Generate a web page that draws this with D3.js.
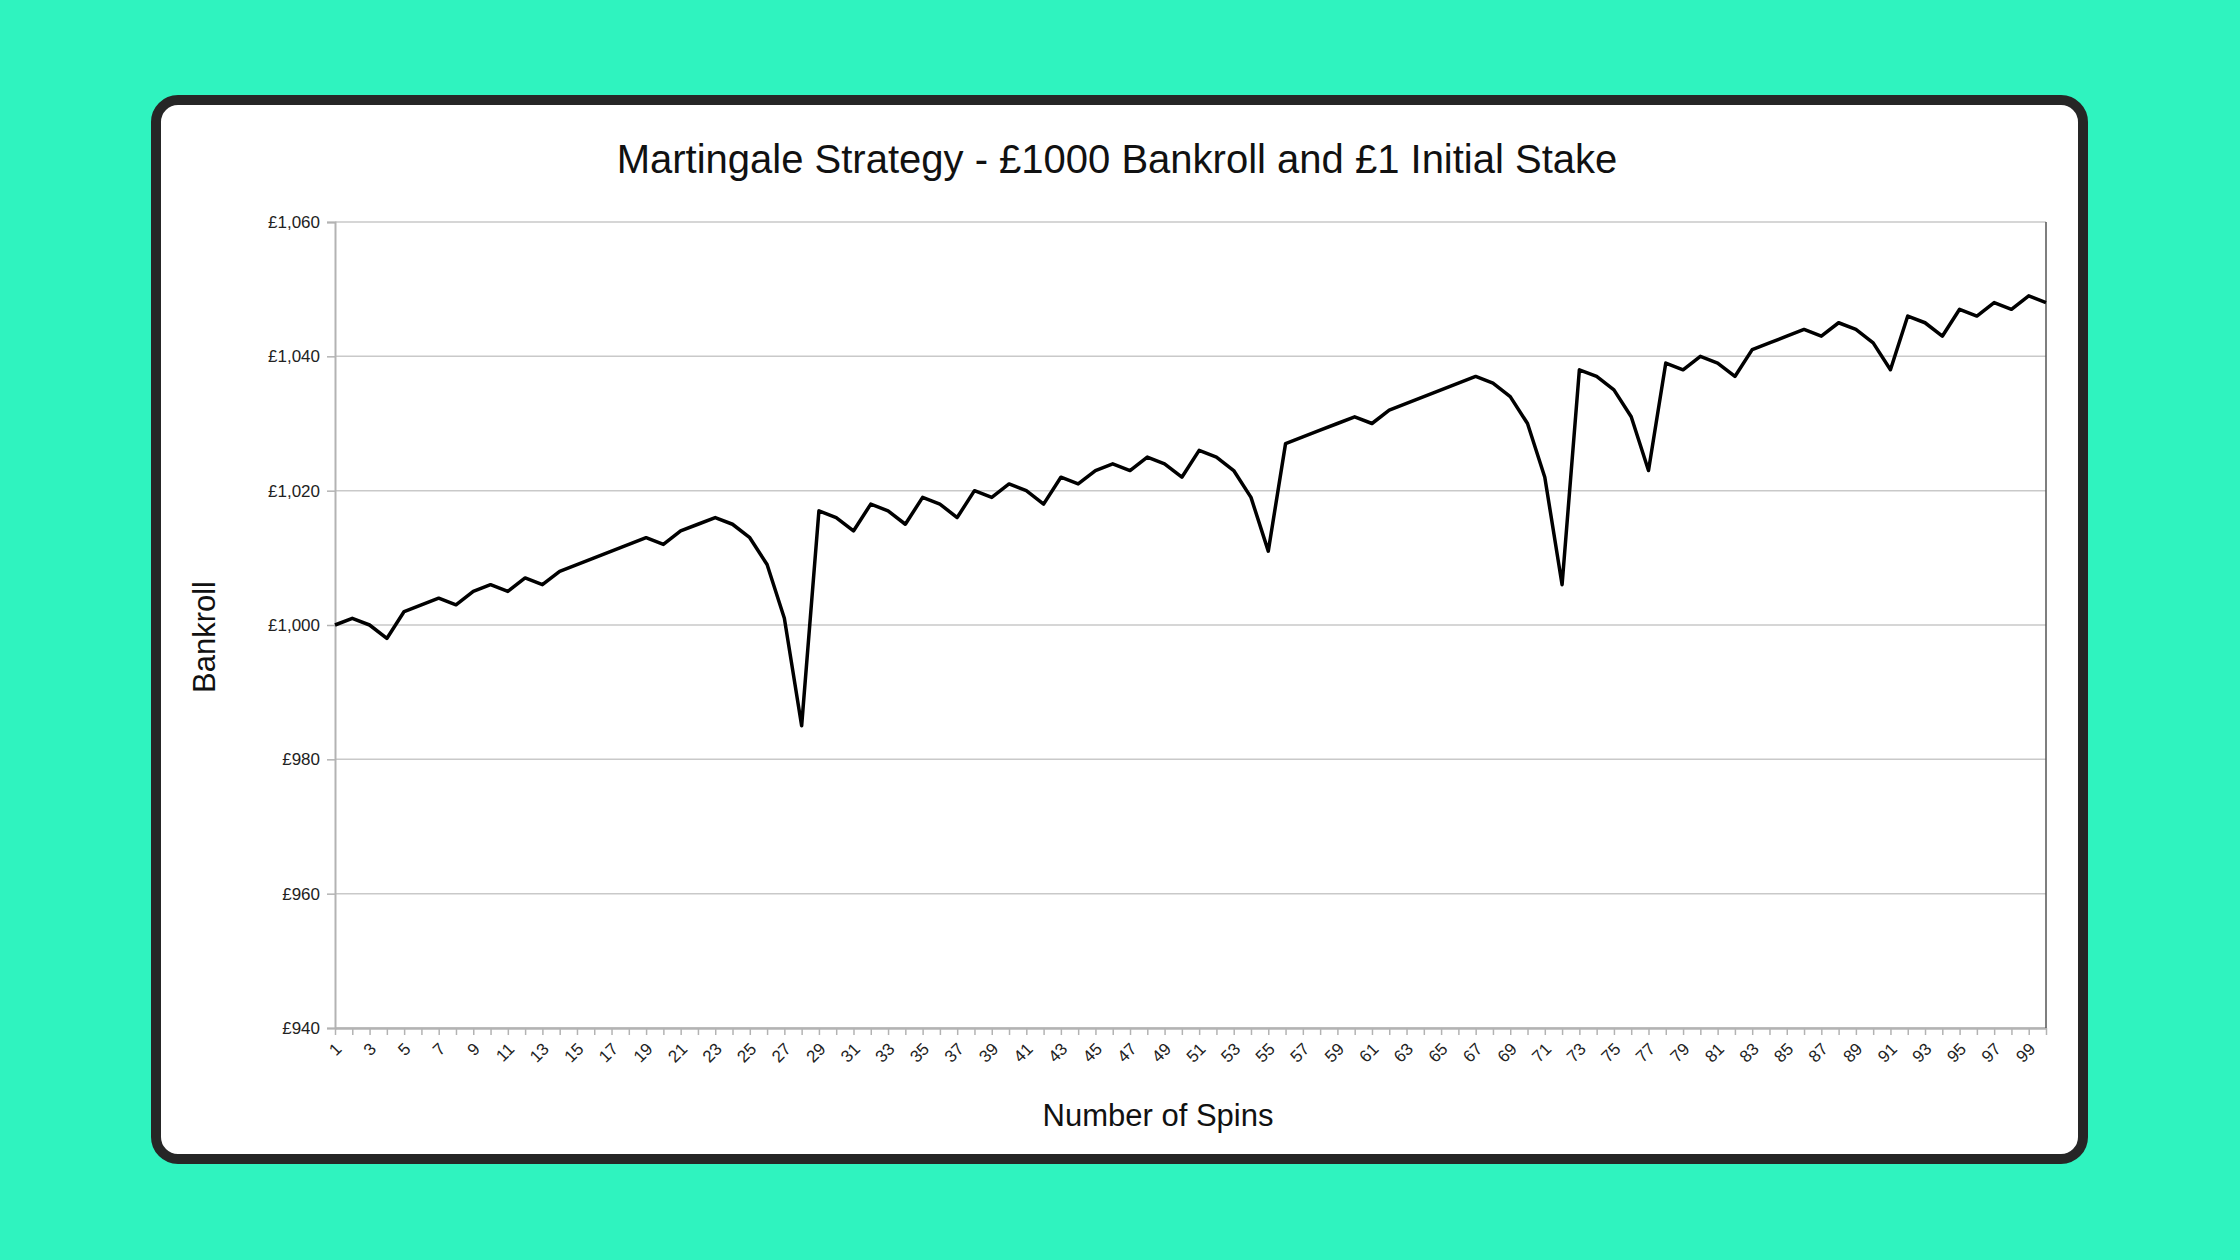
<!DOCTYPE html>
<html>
<head>
<meta charset="utf-8">
<script src="https://cdn.jsdelivr.net/npm/d3@7"></script>
<style>
  html, body { margin: 0; padding: 0; background: #2ff3bf; }
  svg { display: block; font-family: "Liberation Sans", Arial, sans-serif; }
</style>
</head>
<body>
<div id="chart"></div>
<script>
// spin numbers (categories)
const spins = [
  1, 2, 3, 4, 5, 6, 7, 8, 9, 10,
  11, 12, 13, 14, 15, 16, 17, 18, 19, 20,
  21, 22, 23, 24, 25, 26, 27, 28, 29, 30,
  31, 32, 33, 34, 35, 36, 37, 38, 39, 40,
  41, 42, 43, 44, 45, 46, 47, 48, 49, 50,
  51, 52, 53, 54, 55, 56, 57, 58, 59, 60,
  61, 62, 63, 64, 65, 66, 67, 68, 69, 70,
  71, 72, 73, 74, 75, 76, 77, 78, 79, 80,
  81, 82, 83, 84, 85, 86, 87, 88, 89, 90,
  91, 92, 93, 94, 95, 96, 97, 98, 99, 100
];

// bankroll after each spin (£)
const bankroll = [
  1000, 1001, 1000, 998, 1002, 1003, 1004, 1003, 1005, 1006,
  1005, 1007, 1006, 1008, 1009, 1010, 1011, 1012, 1013, 1012,
  1014, 1015, 1016, 1015, 1013, 1009, 1001, 985, 1017, 1016,
  1014, 1018, 1017, 1015, 1019, 1018, 1016, 1020, 1019, 1021,
  1020, 1018, 1022, 1021, 1023, 1024, 1023, 1025, 1024, 1022,
  1026, 1025, 1023, 1019, 1011, 1027, 1028, 1029, 1030, 1031,
  1030, 1032, 1033, 1034, 1035, 1036, 1037, 1036, 1034, 1030,
  1022, 1006, 1038, 1037, 1035, 1031, 1023, 1039, 1038, 1040,
  1039, 1037, 1041, 1042, 1043, 1044, 1043, 1045, 1044, 1042,
  1038, 1046, 1045, 1043, 1047, 1046, 1048, 1047, 1049, 1048
];

const yTicks = [940, 960, 980, 1000, 1020, 1040, 1060];

const title = "Martingale Strategy - £1000 Bankroll and £1 Initial Stake";
const xTitle = "Number of Spins";
const yTitle = "Bankroll";

const width = 2240;
const height = 1260;

const plot = { left: 335, right: 2046, top: 222, bottom: 1028 };

const svg = d3.select("#chart")
  .append("svg")
  .attr("width", width)
  .attr("height", height);

// background + card
svg.append("rect")
  .attr("width", width)
  .attr("height", height)
  .attr("fill", "#2ff3bf");

svg.append("rect")
  .attr("x", 156)
  .attr("y", 100)
  .attr("width", 1927)
  .attr("height", 1059)
  .attr("rx", 22)
  .attr("fill", "#ffffff")
  .attr("stroke", "#262626")
  .attr("stroke-width", 10);

const x = d3.scalePoint()
  .domain(spins)
  .range([plot.left, plot.right]);

const y = d3.scaleLinear()
  .domain([940, 1060])
  .range([plot.bottom, plot.top]);

// gridlines
svg.append("g")
  .selectAll("line")
  .data(yTicks)
  .join("line")
  .attr("x1", plot.left)
  .attr("x2", plot.right)
  .attr("y1", d => y(d))
  .attr("y2", d => y(d))
  .attr("stroke", "#c9c9c9")
  .attr("stroke-width", 1.5);

// y axis
const yAxis = svg.append("g")
  .attr("transform", `translate(${plot.left},0)`)
  .call(
    d3.axisLeft(y)
      .tickValues(yTicks)
      .tickSize(8)
      .tickPadding(7)
      .tickFormat(d => "£" + d3.format(",")(d))
  );
yAxis.select(".domain").attr("stroke", "#b3b3b3").attr("stroke-width", 2);
yAxis.selectAll(".tick line").attr("stroke", "#b3b3b3").attr("stroke-width", 1.5);
yAxis.selectAll(".tick text")
  .attr("font-size", 17)
  .attr("font-family", "Liberation Sans, Arial, sans-serif")
  .attr("fill", "#222");

// x axis
const xAxis = svg.append("g")
  .attr("transform", `translate(0,${plot.bottom})`)
  .call(
    d3.axisBottom(x)
      .tickSize(7)
      .tickSizeOuter(0)
      .tickFormat(d => (d % 2 === 1 ? d : ""))
  );
xAxis.select(".domain").attr("stroke", "#b3b3b3").attr("stroke-width", 2.5);
xAxis.selectAll(".tick line").attr("stroke", "#b3b3b3").attr("stroke-width", 1.5);
xAxis.selectAll(".tick text")
  .attr("font-size", 17)
  .attr("font-family", "Liberation Sans, Arial, sans-serif")
  .attr("fill", "#222")
  .attr("text-anchor", "end")
  .attr("dy", null)
  .attr("y", 0)
  .attr("transform", "translate(4,19) rotate(-45)")
  .attr("dominant-baseline", "middle");

// right edge of plot wall
svg.append("line")
  .attr("x1", plot.right)
  .attr("x2", plot.right)
  .attr("y1", plot.top)
  .attr("y2", plot.bottom)
  .attr("stroke", "#555")
  .attr("stroke-width", 1.5);

// the line
const line = d3.line()
  .x((d, i) => x(spins[i]))
  .y(d => y(d));

svg.append("path")
  .datum(bankroll)
  .attr("d", line)
  .attr("fill", "none")
  .attr("stroke", "#000")
  .attr("stroke-width", 3.5)
  .attr("stroke-linejoin", "round");

// titles
svg.append("text")
  .attr("x", 1117)
  .attr("y", 173)
  .attr("text-anchor", "middle")
  .attr("font-size", 40)
  .attr("fill", "#111")
  .text(title);

svg.append("text")
  .attr("x", 1158)
  .attr("y", 1126)
  .attr("text-anchor", "middle")
  .attr("font-size", 31)
  .attr("fill", "#111")
  .text(xTitle);

svg.append("text")
  .attr("transform", "translate(215,637) rotate(-90)")
  .attr("text-anchor", "middle")
  .attr("font-size", 31)
  .attr("fill", "#111")
  .text(yTitle);
</script>
</body>
</html>
